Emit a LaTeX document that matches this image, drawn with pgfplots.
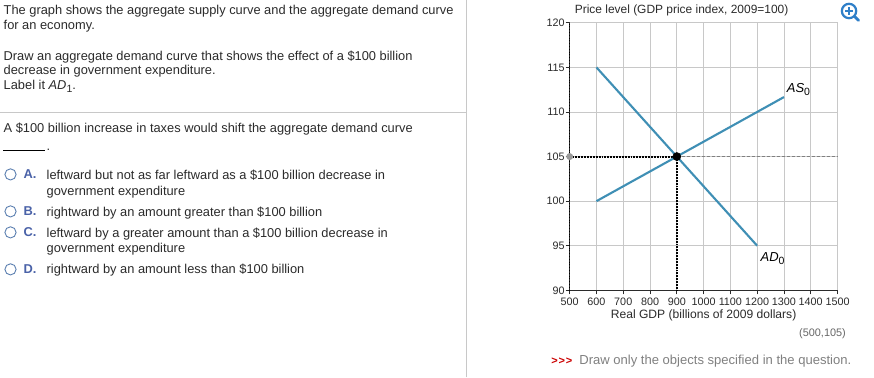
\documentclass[border=0pt]{standalone}
\usepackage{pgfplots}
\pgfplotsset{compat=1.18}
\usepackage{fontspec}
\setmainfont{Liberation Sans}
\definecolor{txt}{HTML}{2B2B2B}
\definecolor{curve}{HTML}{3F8FB5}
\definecolor{gridc}{HTML}{C8C8C8}
\definecolor{optb}{HTML}{4A62A8}
\definecolor{radio}{HTML}{5B7FB0}
\definecolor{icon}{HTML}{2F7FC8}
\newcommand{\tl}[3]{\node[anchor=base west,inner sep=0pt,text=txt,font=\fontsize{12.85pt}{13pt}\selectfont] at (#1pt,377pt-#2pt) {#3};}
\newcommand{\sub}[1]{\raisebox{-3pt}{\fontsize{10.5pt}{11pt}\selectfont #1}}
\begin{document}
\begin{tikzpicture}[x=1pt,y=1pt]
\fill[white] (0,0) rectangle (874,377);
% left-hand question text
\tl{3}{14}{The graph shows the aggregate supply curve and the aggregate demand curve}
\tl{3}{29}{for an economy.}
\tl{3}{60}{Draw an aggregate demand curve that shows the effect of a \$100 billion}
\tl{3}{74}{decrease in government expenditure.}
\tl{3}{89}{Label it \textit{AD}\sub{1}.}
\draw[gridc,line width=1pt] (0,377-112.5) -- (466,377-112.5);
\draw[gridc,line width=1pt] (466.5,0) -- (466.5,377);
\tl{3}{132}{A \$100 billion increase in taxes would shift the aggregate demand curve}
\draw[black,line width=0.8pt] (3,377-150) -- (45,377-150);
\tl{46}{150}{.}
\foreach \yy/\ll in {174/A.,211/B.,232/C.,269/D.}{
  \draw[radio,line width=0.9pt] (10,377-\yy) circle (5.6);
  \node[anchor=base west,inner sep=0pt,text=optb,font=\fontsize{12.85pt}{13pt}\selectfont\bfseries] at (23,377-\yy-4.6) {\ll};
}
\tl{46}{179}{leftward but not as far leftward as a \$100 billion decrease in}
\tl{46}{195}{government expenditure}
\tl{46}{216}{rightward by an amount greater than \$100 billion}
\tl{46}{237}{leftward by a greater amount than a \$100 billion decrease in}
\tl{46}{252}{government expenditure}
\tl{46}{273}{rightward by an amount less than \$100 billion}
% graph
\begin{axis}[
  at={(569.5pt,87pt)},anchor=south west,
  width=268pt,height=267.7pt,scale only axis,
  xmin=500,xmax=1500,ymin=90,ymax=120,
  axis lines=left,
  axis line style={-,draw=txt,line width=0.8pt},
  xtick={500,600,...,1500},ytick={90,95,...,120},
  grid=major,
  grid style={gridc,line width=0.9pt},
  tick align=outside,
  tick style={txt,line width=0.7pt},
  major tick length=4pt,
  tick label style={text=txt,font=\fontsize{10.8pt}{12pt}\selectfont},
  /pgf/number format/assume math mode=true,
  /pgf/number format/1000 sep={},
  xticklabel style={yshift=-0.5pt},
  yticklabel style={xshift=2.5pt},
  clip=false,
]
\addplot[gridc,line width=0.9pt,forget plot] coordinates {(500,120) (1500,120) (1500,90)};
\addplot[black,dotted,line width=0.8pt,forget plot] coordinates {(500,90) (500,120)};
\addplot[gray,densely dashed,line width=0.8pt,forget plot] coordinates {(900,105) (1500,105)};
\addplot[black,densely dotted,line width=1.9pt,forget plot] coordinates {(500,105) (900,105)};
\addplot[black,densely dotted,line width=1.9pt,forget plot] coordinates {(900,105) (900,90)};
\addplot[curve,line width=2.1pt,forget plot] coordinates {(600,100) (900,105) (1300,111.67)};
\addplot[curve,line width=2.1pt,forget plot] coordinates {(600,115) (900,105) (1200,95)};
\addplot[only marks,mark=*,mark size=3.2pt,mark options={draw=gray!80,fill=gray!80},forget plot] coordinates {(500,105)};
\addplot[only marks,mark=*,mark size=4.1pt,mark options={draw=black,fill=black},forget plot] coordinates {(900,105)};
\node[anchor=base west,inner sep=0pt,text=black,font=\fontsize{13pt}{13pt}\selectfont] at (axis cs:1310,112.2) {\textit{AS}\sub{0}};
\node[anchor=base west,inner sep=0pt,text=black,font=\fontsize{13pt}{13pt}\selectfont] at (axis cs:1212,93.2) {\textit{AD}\sub{0}};
\end{axis}
\node[anchor=base west,inner sep=0pt,text=txt,font=\fontsize{11.95pt}{12pt}\selectfont] at (574.5,377-13) {Price level (GDP price index, 2009=100)};
\node[anchor=base,inner sep=0pt,text=txt,font=\fontsize{12.1pt}{12pt}\selectfont] at (703.5,377-318) {Real GDP (billions of 2009 dollars)};
\node[anchor=base east,inner sep=0pt,text=black!60,font=\fontsize{10.9pt}{12pt}\selectfont] at (846,377-336) {(500,105)};
\node[anchor=base west,inner sep=0pt,text=red!80!black,font=\fontsize{11pt}{12pt}\selectfont\bfseries] at (551,377-364) {{>}\kern0.8pt{>}\kern0.8pt{>}};
\node[anchor=base west,inner sep=0pt,text=black!50,font=\fontsize{13.05pt}{13pt}\selectfont] at (579,377-364) {Draw only the objects specified in the question.};
% magnifier icon
\draw[icon,line width=2.2pt] (849,377-10.5) circle (7.2);
\draw[icon,line width=2.8pt,line cap=round] (854.5,377-16) -- (858.5,377-20);
\draw[icon,line width=1.7pt] (845.3,377-10.5) -- (852.7,377-10.5) (849,377-6.8) -- (849,377-14.2);
\end{tikzpicture}
\end{document}
